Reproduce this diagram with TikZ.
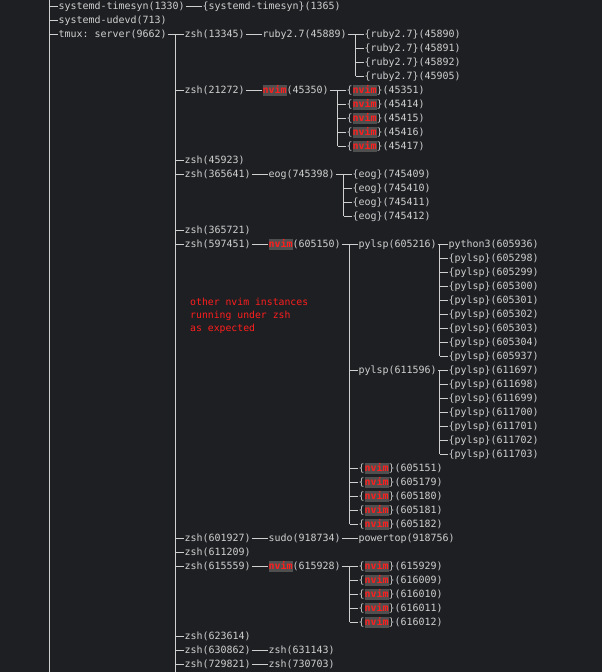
\documentclass[tikz,border=0pt]{standalone}
\usepackage{fontspec}
\setmonofont{DejaVu Sans Mono}
\definecolor{bg}{HTML}{1E1F22}
\definecolor{fg}{HTML}{D0D0D0}
\definecolor{hlbg}{HTML}{4F4F4F}
\definecolor{nvred}{HTML}{FF1E1E}
\newcommand\nv{{\setlength{\fboxsep}{0pt}\colorbox{hlbg}{\rule[-2.6pt]{0pt}{10.6pt}\color{nvred}\bfseries nvim}}}
\newcommand\T[4]{\node[txt] (#1) at ({58.5+6*#2},{6+14*#3+3}) {#4};}
\tikzset{
 txt/.style={anchor=base west,inner sep=0pt,text height=8pt,text depth=2.5pt,text=fg,font=\ttfamily\fontsize{9.97}{12}\selectfont},
 ln/.style={draw=fg,line width=0.8pt},
 note/.style={anchor=north west,inner sep=0pt,text=nvred,font=\ttfamily\fontsize{9.8}{13}\selectfont,align=left}
}
\begin{document}
\begin{tikzpicture}[x=1pt,y=-1pt]
\fill[bg] (0,0) rectangle (602,672);
\useasboundingbox (0,0) rectangle (602,672);
% level A
\T{a0}{0}{0}{systemd-timesyn(1330)}
\T{a0c}{24}{0}{\{systemd-timesyn\}(1365)}
\T{a1}{0}{1}{systemd-udevd(713)}
\T{a2}{0}{2}{tmux: server(9662)}
% zsh children
\T{z1}{21}{2}{zsh(13345)}
\T{r}{34}{2}{ruby2.7(45889)}
\T{r0}{51}{2}{\{ruby2.7\}(45890)}
\T{r1}{51}{3}{\{ruby2.7\}(45891)}
\T{r2}{51}{4}{\{ruby2.7\}(45892)}
\T{r3}{51}{5}{\{ruby2.7\}(45905)}
\T{z2}{21}{6}{zsh(21272)}
\T{n1}{34}{6}{\nv(45350)}
\T{n1a}{48}{6}{\{\nv\}(45351)}
\T{n1b}{48}{7}{\{\nv\}(45414)}
\T{n1c}{48}{8}{\{\nv\}(45415)}
\T{n1d}{48}{9}{\{\nv\}(45416)}
\T{n1e}{48}{10}{\{\nv\}(45417)}
\T{z3}{21}{11}{zsh(45923)}
\T{z4}{21}{12}{zsh(365641)}
\T{e}{35}{12}{eog(745398)}
\T{e0}{49}{12}{\{eog\}(745409)}
\T{e1}{49}{13}{\{eog\}(745410)}
\T{e2}{49}{14}{\{eog\}(745411)}
\T{e3}{49}{15}{\{eog\}(745412)}
\T{z5}{21}{16}{zsh(365721)}
\T{z6}{21}{17}{zsh(597451)}
\T{n2}{35}{17}{\nv(605150)}
\T{p1}{50}{17}{pylsp(605216)}
\T{py}{65}{17}{python3(605936)}
\T{q1}{65}{18}{\{pylsp\}(605298)}
\T{q2}{65}{19}{\{pylsp\}(605299)}
\T{q3}{65}{20}{\{pylsp\}(605300)}
\T{q4}{65}{21}{\{pylsp\}(605301)}
\T{q5}{65}{22}{\{pylsp\}(605302)}
\T{q6}{65}{23}{\{pylsp\}(605303)}
\T{q7}{65}{24}{\{pylsp\}(605304)}
\T{q8}{65}{25}{\{pylsp\}(605937)}
\T{p2}{50}{26}{pylsp(611596)}
\T{s1}{65}{26}{\{pylsp\}(611697)}
\T{s2}{65}{27}{\{pylsp\}(611698)}
\T{s3}{65}{28}{\{pylsp\}(611699)}
\T{s4}{65}{29}{\{pylsp\}(611700)}
\T{s5}{65}{30}{\{pylsp\}(611701)}
\T{s6}{65}{31}{\{pylsp\}(611702)}
\T{s7}{65}{32}{\{pylsp\}(611703)}
\T{t1}{50}{33}{\{\nv\}(605151)}
\T{t2}{50}{34}{\{\nv\}(605179)}
\T{t3}{50}{35}{\{\nv\}(605180)}
\T{t4}{50}{36}{\{\nv\}(605181)}
\T{t5}{50}{37}{\{\nv\}(605182)}
\T{z7}{21}{38}{zsh(601927)}
\T{su}{35}{38}{sudo(918734)}
\T{pt}{50}{38}{powertop(918756)}
\T{z8}{21}{39}{zsh(611209)}
\T{z9}{21}{40}{zsh(615559)}
\T{n3}{35}{40}{\nv(615928)}
\T{u1}{50}{40}{\{\nv\}(615929)}
\T{u2}{50}{41}{\{\nv\}(616009)}
\T{u3}{50}{42}{\{\nv\}(616010)}
\T{u4}{50}{43}{\{\nv\}(616011)}
\T{u5}{50}{44}{\{\nv\}(616012)}
\T{z10}{21}{45}{zsh(623614)}
\T{z11}{21}{46}{zsh(630862)}
\T{zz1}{35}{46}{zsh(631143)}
\T{z12}{21}{47}{zsh(729821)}
\T{zz2}{35}{47}{zsh(730703)}
\node[note] (note) at (190,298) {other nvim instances\\running under zsh\\as expected};
% connectors
\coordinate (topA) at (49.5,0);
\coordinate (botA) at (49.5,672);
\draw[ln] (topA) -- (botA);
\foreach \n in {a0,a1,a2} \draw[ln] ([xshift=-9pt]\n.west) -- ([xshift=-1pt]\n.west);
\draw[ln] ([xshift=1pt]a0.east) -- ([xshift=-1pt]a0c.west);
\coordinate (botB) at ([xshift=-9pt]z12.west |- botA);
\draw[ln] ([xshift=1pt]a2.east) -- ([xshift=-1pt]z1.west);
\draw[ln] ([xshift=-9pt]z1.west) -- (botB);
\foreach \n in {z2,z3,z4,z5,z6,z7,z8,z9,z10,z11,z12} \draw[ln] ([xshift=-9pt]\n.west) -- ([xshift=-1pt]\n.west);
\foreach \a/\b in {z1/r,z2/n1,z4/e,z6/n2,z7/su,z9/n3,z11/zz1,z12/zz2,r/r0,n1/n1a,e/e0,n2/p1,p1/py,p2/s1,su/pt,n3/u1}
  \draw[ln] ([xshift=1pt]\a.east) -- ([xshift=-1pt]\b.west);
\foreach \f/\l/\m in {r0/r3/{r1,r2,r3},n1a/n1e/{n1b,n1c,n1d,n1e},e0/e3/{e1,e2,e3},p1/t5/{p2,t1,t2,t3,t4,t5},py/q8/{q1,q2,q3,q4,q5,q6,q7,q8},s1/s7/{s2,s3,s4,s5,s6,s7},u1/u5/{u2,u3,u4,u5}}{
  \draw[ln] ([xshift=-9pt]\f.west) -- ([xshift=-9pt]\l.west);
  \foreach \n in \m \draw[ln] ([xshift=-9pt]\n.west) -- ([xshift=-1pt]\n.west);
}
\end{tikzpicture}
\end{document}
